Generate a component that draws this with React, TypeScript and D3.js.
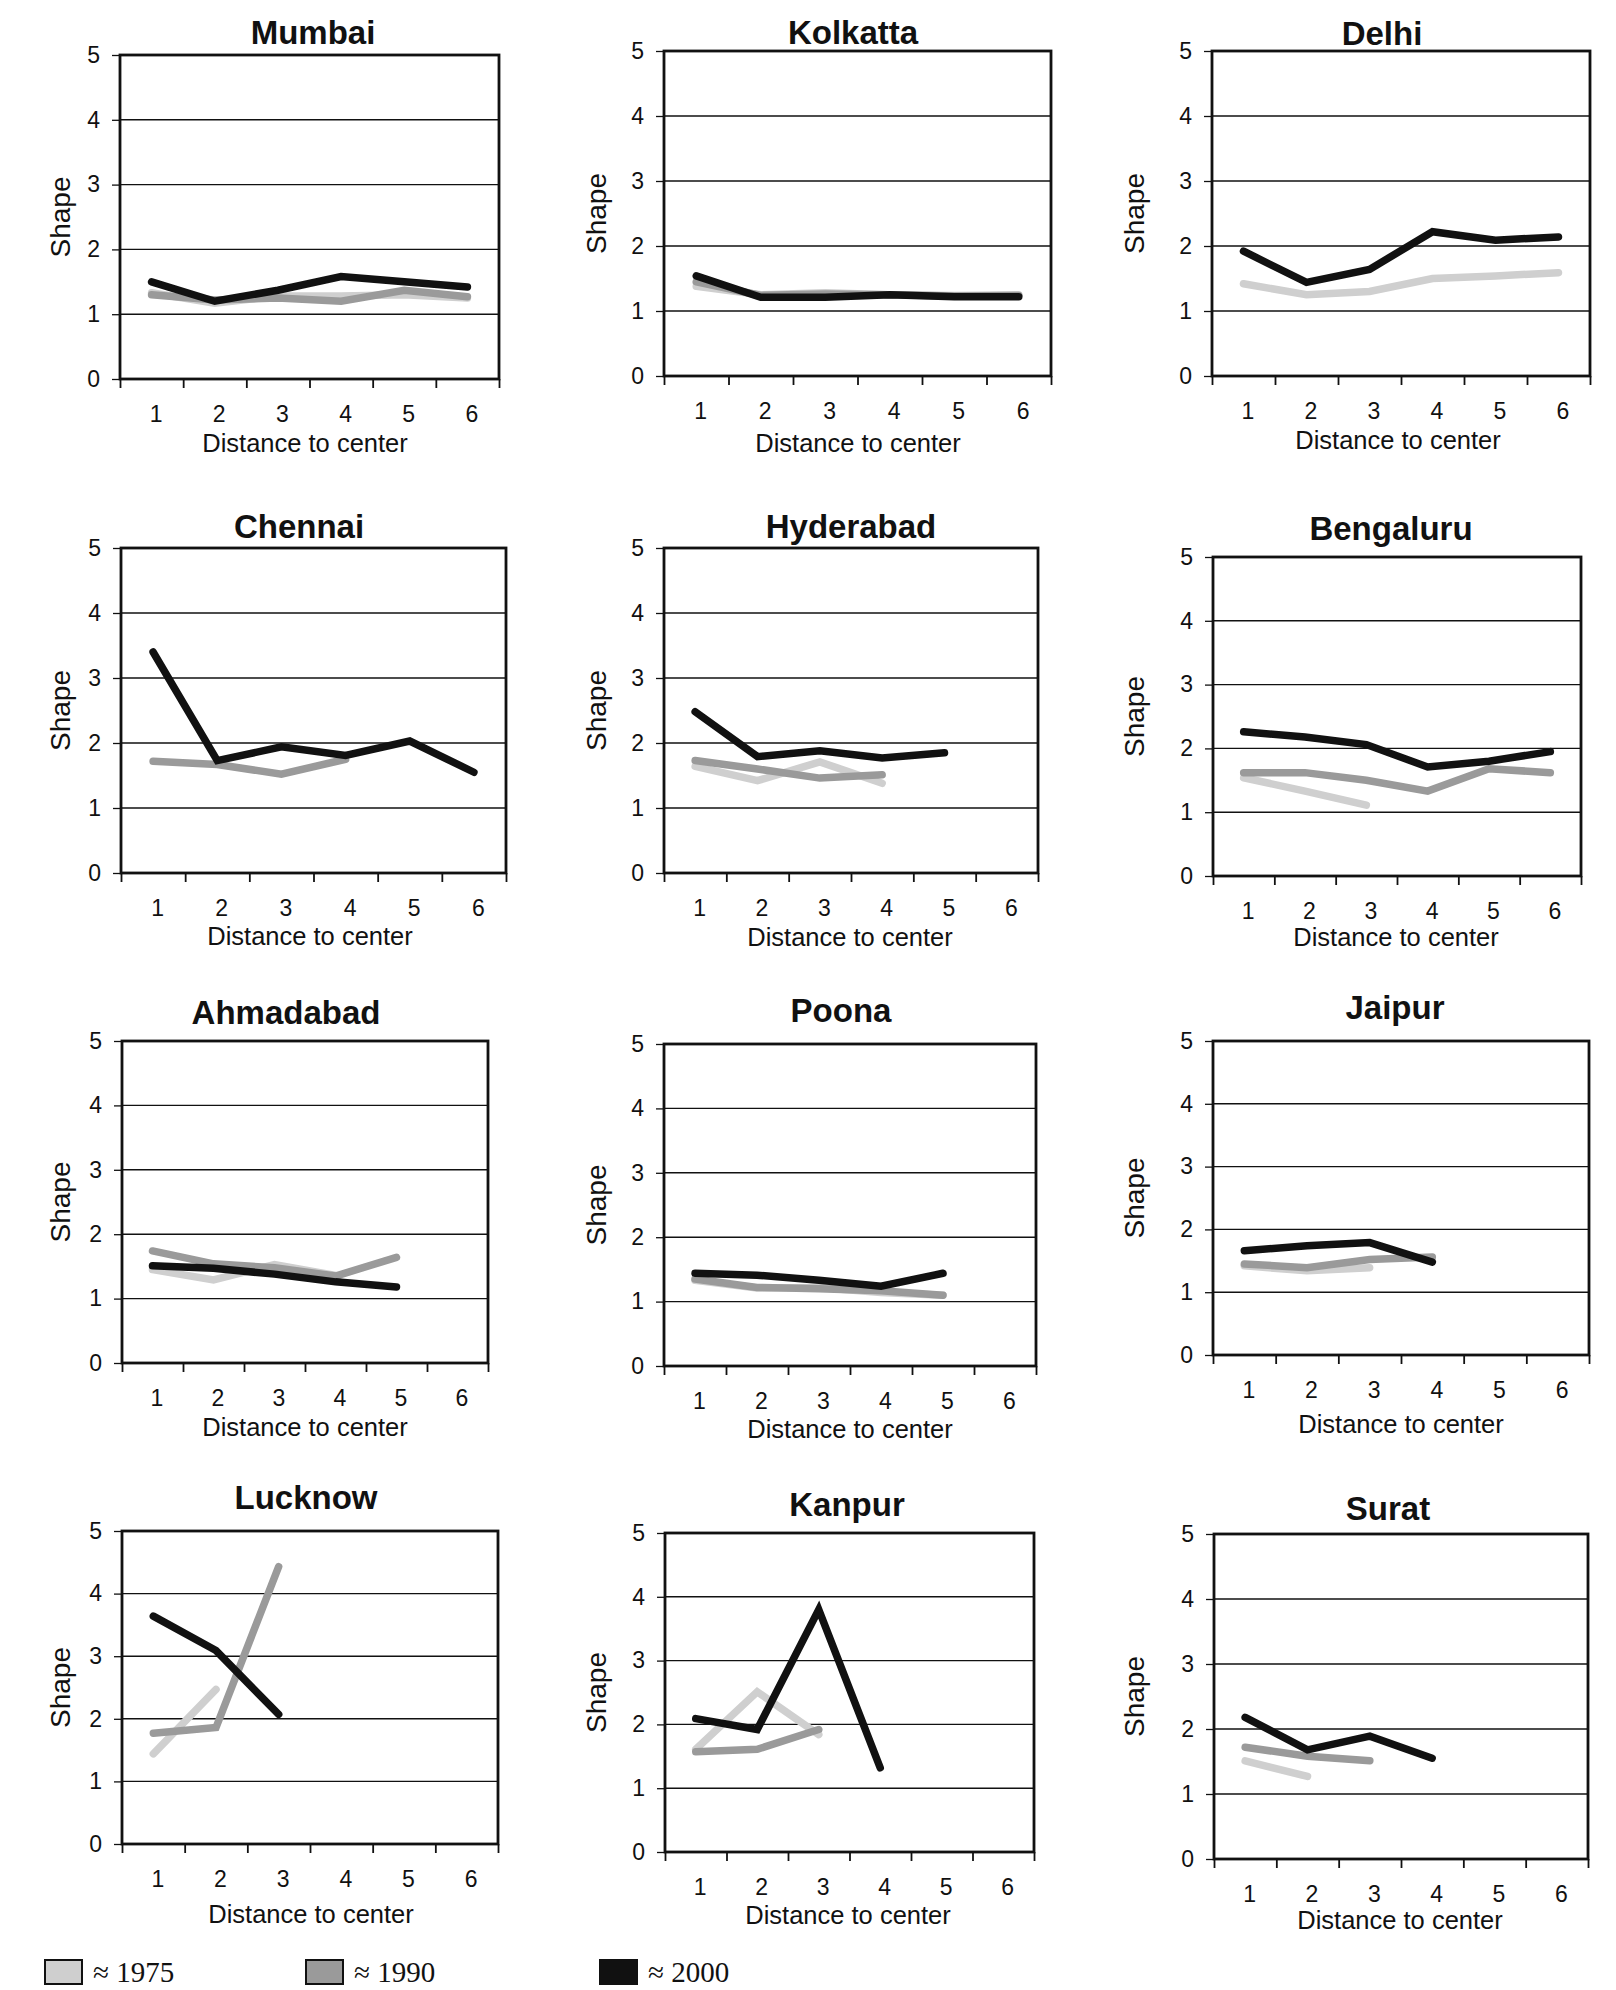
import React, { useRef, useEffect } from "react";
import * as d3 from "d3";

// data
const cities = [
  "Mumbai", "Kolkatta", "Delhi",
  "Chennai", "Hyderabad", "Bengaluru",
  "Ahmadabad", "Poona", "Jaipur",
  "Lucknow", "Kanpur", "Surat",
];
const distances = [1, 2, 3, 4, 5, 6];
const yTicks = [0, 1, 2, 3, 4, 5];
const periods = ["≈ 1975", "≈ 1990", "≈ 2000"];

const shape1975 = [
  [1.33, 1.17, 1.28, 1.28, 1.3, 1.25],
  [1.38, 1.25, 1.28, 1.25, 1.24, 1.25],
  [1.42, 1.25, 1.3, 1.5, 1.54, 1.59],
  [],
  [1.64, 1.42, 1.71, 1.38],
  [1.54, 1.33, 1.11],
  [1.45, 1.29, 1.53, 1.36],
  [1.33, 1.21, 1.22, 1.14, 1.1],
  [1.42, 1.34, 1.39],
  [1.44, 2.47],
  [1.61, 2.51, 1.84],
  [1.51, 1.27],
];
const shape1990 = [
  [1.3, 1.22, 1.25, 1.2, 1.37, 1.27],
  [1.45, 1.24, 1.26, 1.25, 1.23, 1.24],
  [],
  [1.72, 1.67, 1.52, 1.75],
  [1.73, 1.6, 1.46, 1.51],
  [1.62, 1.62, 1.5, 1.33, 1.68, 1.62],
  [1.74, 1.54, 1.48, 1.35, 1.64],
  [1.35, 1.22, 1.2, 1.17, 1.1],
  [1.45, 1.39, 1.52, 1.56],
  [1.77, 1.86, 4.43],
  [1.57, 1.61, 1.92],
  [1.72, 1.58, 1.51],
];
const shape2000 = [
  [1.5, 1.2, 1.37, 1.58, 1.5, 1.42],
  [1.54, 1.21, 1.21, 1.25, 1.22, 1.22],
  [1.92, 1.44, 1.64, 2.22, 2.09, 2.14],
  [3.4, 1.73, 1.94, 1.81, 2.03, 1.55],
  [2.48, 1.79, 1.88, 1.77, 1.85],
  [2.26, 2.18, 2.06, 1.71, 1.8, 1.95],
  [1.51, 1.47, 1.38, 1.26, 1.18],
  [1.44, 1.41, 1.33, 1.24, 1.44],
  [1.66, 1.74, 1.79, 1.48],
  [3.64, 3.09, 2.07],
  [2.09, 1.92, 3.8, 1.32],
  [2.18, 1.68, 1.89, 1.55],
];

// layout of each panel: plot frame [left, top, right, bottom]
const frames = [
  [120, 55, 499, 379], [664, 51, 1051, 376], [1212, 51, 1590, 376],
  [121, 548, 506, 873], [664, 548, 1038, 873], [1213, 557, 1581, 876],
  [122, 1041, 488, 1363], [664, 1044, 1036, 1366], [1213, 1041, 1589, 1355],
  [122, 1531, 498, 1844], [665, 1533, 1034, 1852], [1214, 1534, 1588, 1859],
];
const titlePos = [
  [313, 44], [853, 44], [1382, 45],
  [299, 538], [851, 538], [1391, 540],
  [286, 1024], [841, 1022], [1395, 1019],
  [306, 1509], [847, 1516], [1388, 1520],
];
const xLabelPos = [
  [305, 452], [858, 452], [1398, 449],
  [310, 945], [850, 946], [1396, 946],
  [305, 1436], [850, 1438], [1401, 1433],
  [311, 1923], [848, 1924], [1400, 1929],
];
const yLabelX = [60, 596, 1134];
const colors = ["#cfcfcf", "#9a9a9a", "#111111"];

const W = 1616;
const H = 1990;
const sans = "'Liberation Sans', Arial, sans-serif";

export default function App() {
  const svgRef = useRef<SVGSVGElement>(null);

  useEffect(() => {
    const svg = d3.select(svgRef.current);
    svg.selectAll("*").remove();
    const series = [shape1975, shape1990, shape2000];

    cities.forEach((city, i) => {
      const [left, top, right, bottom] = frames[i];
      const x = d3.scaleLinear().domain([0.5, 6.5]).range([left, right]);
      const y = d3.scaleLinear().domain([0, 5]).range([bottom, top]);
      const g = svg.append("g");

      // gridlines
      g.selectAll("line.grid")
        .data(yTicks.filter((t) => t > 0 && t < 5))
        .join("line")
        .attr("x1", left)
        .attr("x2", right)
        .attr("y1", (d) => y(d))
        .attr("y2", (d) => y(d))
        .attr("stroke", "#111")
        .attr("stroke-width", 1.4);

      // y axis
      g.append("g")
        .attr("transform", `translate(${left},0)`)
        .call(d3.axisLeft(y).tickValues(yTicks).tickSize(8).tickPadding(12).tickFormat(d3.format("d")))
        .call((a) => a.select(".domain").remove())
        .call((a) => a.selectAll(".tick line").attr("stroke-width", 1.3))
        .call((a) =>
          a.selectAll(".tick text")
            .style("font-family", sans)
            .style("font-size", "23px")
        )
        .attr("color", "#111");

      // x axis boundary ticks
      g.append("g")
        .attr("transform", `translate(0,${bottom})`)
        .call(
          d3.axisBottom(x)
            .tickValues(d3.range(0.5, 7, 1))
            .tickSize(9)
            .tickFormat(() => "")
        )
        .call((a) => a.select(".domain").remove())
        .call((a) => a.selectAll(".tick line").attr("stroke-width", 1.8))
        .attr("color", "#111");

      // x axis labels
      g.append("g")
        .attr("transform", `translate(4,${bottom})`)
        .call(d3.axisBottom(x).tickValues(distances).tickSize(0).tickPadding(27).tickFormat(d3.format("d")))
        .call((a) => a.select(".domain").remove())
        .call((a) =>
          a.selectAll(".tick text")
            .style("font-family", sans)
            .style("font-size", "23px")
        )
        .attr("color", "#111");

      // frame
      g.append("rect")
        .attr("x", left)
        .attr("y", top)
        .attr("width", right - left)
        .attr("height", bottom - top)
        .attr("fill", "none")
        .attr("stroke", "#111")
        .attr("stroke-width", 2.8);

      // series
      const line = d3
        .line<number>()
        .x((_, j) => x(distances[j]))
        .y((d) => y(d));

      series.forEach((s, k) => {
        const vals = s[i];
        if (!vals.length) return;
        g.append("path")
          .datum(vals)
          .attr("fill", "none")
          .attr("stroke", colors[k])
          .attr("stroke-width", 7.5)
          .attr("stroke-linecap", "round")
          .attr("stroke-linejoin", "miter")
          .attr("d", line);
      });

      // titles
      g.append("text")
        .attr("x", titlePos[i][0])
        .attr("y", titlePos[i][1])
        .attr("text-anchor", "middle")
        .attr("font-family", sans)
        .attr("font-weight", "bold")
        .attr("font-size", 33)
        .attr("fill", "#111")
        .text(city);

      g.append("text")
        .attr("x", xLabelPos[i][0])
        .attr("y", xLabelPos[i][1])
        .attr("text-anchor", "middle")
        .attr("font-family", sans)
        .attr("font-size", 25.5)
        .attr("fill", "#111")
        .text("Distance to center");

      const cy = (top + bottom) / 2;
      g.append("text")
        .attr("transform", `translate(${yLabelX[i % 3]},${cy}) rotate(-90)`)
        .attr("text-anchor", "middle")
        .attr("dominant-baseline", "central")
        .attr("font-family", sans)
        .attr("font-size", 28)
        .attr("fill", "#111")
        .text("Shape");
    });

    // legend
    const legendX = d3.scaleOrdinal<string, number>().domain(periods).range([45, 306, 600]);
    const leg = svg.append("g");
    periods.forEach((p, k) => {
      const lx = legendX(p);
      leg.append("rect")
        .attr("x", lx)
        .attr("y", 1960)
        .attr("width", 37)
        .attr("height", 24)
        .attr("fill", colors[k])
        .attr("stroke", "#111")
        .attr("stroke-width", 2);
      leg.append("text")
        .attr("x", lx + 48)
        .attr("y", 1982)
        .attr("font-family", "'Liberation Serif', 'Times New Roman', serif")
        .attr("font-size", 29)
        .attr("fill", "#111")
        .text(p);
    });
  }, []);

  return (
    <svg
      ref={svgRef}
      width={W}
      height={H}
      viewBox={`0 0 ${W} ${H}`}
      style={{ position: "absolute", left: 0, top: 0, background: "#fff" }}
    />
  );
}
